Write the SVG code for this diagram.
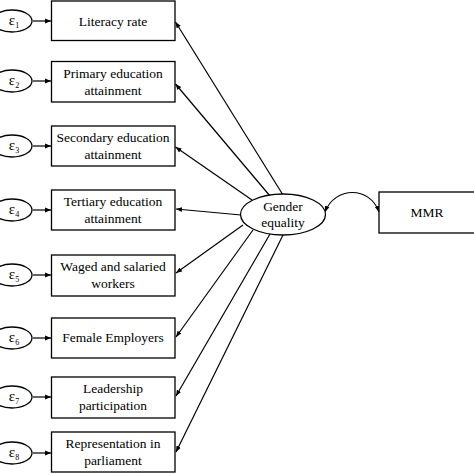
<svg xmlns="http://www.w3.org/2000/svg" width="474" height="474" viewBox="0 0 474 474">
<style>
.box{fill:#fff;stroke:#000;stroke-width:1.3}
.el{fill:#fff;stroke:#000;stroke-width:1.3}
.t{font-family:'Liberation Serif',serif;font-size:13.5px;fill:#000;text-anchor:middle}
.e{font-family:'Liberation Serif',serif;font-size:15px;fill:#000;text-anchor:middle}
.s{font-size:8px}
.c{stroke:#000;stroke-width:1.2;fill:none;marker-end:url(#ah)}
</style>
<defs>
<marker id="ah" viewBox="0 0 10 10" refX="10" refY="5" markerWidth="6" markerHeight="6" orient="auto" markerUnits="userSpaceOnUse">
<path d="M0,1 L10,5 L0,9 z" fill="#000"/>
</marker>
<marker id="ahs" viewBox="0 0 10 10" refX="10" refY="5" markerWidth="6" markerHeight="6" orient="auto-start-reverse" markerUnits="userSpaceOnUse">
<path d="M0,1 L10,5 L0,9 z" fill="#000"/>
</marker>
</defs>
<rect width="474" height="474" fill="#fff"/>
<g id="connectors">
<line class="c" x1="33" y1="21" x2="51" y2="21"/>
<line class="c" x1="33" y1="81" x2="51" y2="81"/>
<line class="c" x1="33" y1="146" x2="51" y2="146"/>
<line class="c" x1="33" y1="210" x2="51" y2="210"/>
<line class="c" x1="33" y1="275" x2="51" y2="275"/>
<line class="c" x1="33" y1="338" x2="51" y2="338"/>
<line class="c" x1="33" y1="397" x2="51" y2="397"/>
<line class="c" x1="33" y1="453" x2="51" y2="453"/>
<line class="c" x1="283" y1="195" x2="175.5" y2="22"/>
<line class="c" x1="270" y1="196" x2="175.5" y2="84"/>
<line class="c" x1="252" y1="200" x2="175.5" y2="147"/>
<line class="c" x1="241" y1="215" x2="176" y2="209"/>
<line class="c" x1="243" y1="225" x2="176" y2="273"/>
<line class="c" x1="253" y1="230" x2="176" y2="337"/>
<line class="c" x1="270" y1="234" x2="176" y2="396"/>
<line class="c" x1="283" y1="235" x2="176" y2="452"/>
<path d="M325,212 C335,186 370,186 379,212" stroke="#000" stroke-width="1.2" fill="none" marker-start="url(#ahs)" marker-end="url(#ahs)"/>
</g>
<g id="e1"><ellipse class="el" cx="12" cy="21" rx="20" ry="11"/><text class="e" x="14" y="25">ε<tspan class="s" dy="3">1</tspan></text></g>
<g id="e2"><ellipse class="el" cx="12" cy="81" rx="20" ry="11"/><text class="e" x="14" y="85">ε<tspan class="s" dy="3">2</tspan></text></g>
<g id="e3"><ellipse class="el" cx="12" cy="146" rx="20" ry="11"/><text class="e" x="14" y="150">ε<tspan class="s" dy="3">3</tspan></text></g>
<g id="e4"><ellipse class="el" cx="12" cy="210" rx="20" ry="11"/><text class="e" x="14" y="214">ε<tspan class="s" dy="3">4</tspan></text></g>
<g id="e5"><ellipse class="el" cx="12" cy="275" rx="20" ry="11"/><text class="e" x="14" y="279">ε<tspan class="s" dy="3">5</tspan></text></g>
<g id="e6"><ellipse class="el" cx="12" cy="338" rx="20" ry="11"/><text class="e" x="14" y="342">ε<tspan class="s" dy="3">6</tspan></text></g>
<g id="e7"><ellipse class="el" cx="12" cy="397" rx="20" ry="11"/><text class="e" x="14" y="401">ε<tspan class="s" dy="3">7</tspan></text></g>
<g id="e8"><ellipse class="el" cx="12" cy="453" rx="20" ry="11"/><text class="e" x="14" y="457">ε<tspan class="s" dy="3">8</tspan></text></g>
<g id="n1"><rect class="box" x="51.5" y="1" width="123.5" height="39.5"/><text class="t" x="113" y="26">Literacy rate</text></g>
<g id="n2"><rect class="box" x="51.5" y="61.5" width="123.5" height="40.5"/><text class="t" x="113" y="78">Primary education</text><text class="t" x="113" y="95">attainment</text></g>
<g id="n3"><rect class="box" x="51.5" y="126" width="123.5" height="40"/><text class="t" x="113" y="142">Secondary education</text><text class="t" x="113" y="159">attainment</text></g>
<g id="n4"><rect class="box" x="51.5" y="190" width="123.5" height="40"/><text class="t" x="113" y="206">Tertiary education</text><text class="t" x="113" y="223">attainment</text></g>
<g id="n5"><rect class="box" x="51.5" y="255" width="123.5" height="41"/><text class="t" x="113" y="271">Waged and salaried</text><text class="t" x="113" y="288">workers</text></g>
<g id="n6"><rect class="box" x="51.5" y="318" width="123.5" height="40"/><text class="t" x="113" y="342">Female Employers</text></g>
<g id="n7"><rect class="box" x="51.5" y="377" width="123.5" height="41"/><text class="t" x="113" y="393">Leadership</text><text class="t" x="113" y="410">participation</text></g>
<g id="n8"><rect class="box" x="51.5" y="432" width="123.5" height="40"/><text class="t" x="113" y="448">Representation in</text><text class="t" x="113" y="465">parliament</text></g>
<g id="gender"><ellipse class="el" cx="283" cy="214.5" rx="42.5" ry="20.5"/><text class="t" x="283" y="211">Gender</text><text class="t" x="283" y="227">equality</text></g>
<g id="mmr"><rect class="box" x="379" y="192" width="100" height="41"/><text class="t" x="427" y="217">MMR</text></g>
</svg>
